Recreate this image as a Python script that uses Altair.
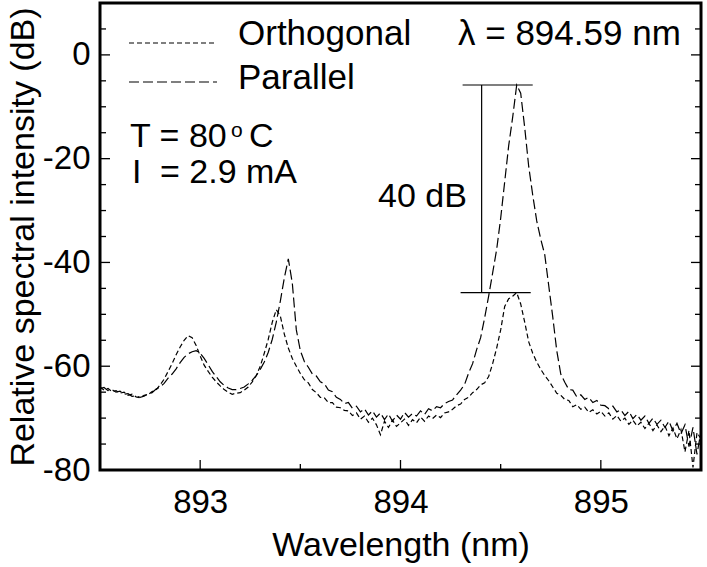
import altair as alt
import numpy as np
import pandas as pd

# Sampling grid of both spectra (nm)
wl_start, wl_step, n_points = 892.50, 0.02, 151
wavelength = np.round(wl_start + wl_step * np.arange(n_points), 2)

# Relative spectral intensity (dB), one value per grid point
orthogonal_db = [
    -64.0, -64.6, -64.3, -64.9, -64.7, -65.2, -65.0, -65.6, -65.4, -65.9,
    -66.1, -65.6, -65.5, -64.9, -64.6, -63.6, -62.5, -61.0, -59.5, -57.8,
    -56.3, -55.0, -54.1, -54.5, -56.0, -58.0, -59.8, -61.0, -62.1, -63.0,
    -63.8, -64.5, -65.0, -65.4, -65.2, -65.1, -64.6, -64.0, -63.0, -61.8,
    -60.0, -57.5, -54.8, -51.5, -49.1, -50.3, -53.8, -56.5, -58.5, -60.0,
    -61.4, -62.6, -63.2, -64.5, -65.1, -66.0, -66.1, -67.0, -67.0, -67.9,
    -68.0, -68.5, -68.6, -69.5, -69.0, -70.2, -69.6, -70.8, -70.0, -71.3,
    -73.2, -70.6, -71.8, -70.4, -71.6, -70.9, -70.2, -71.4, -70.3, -70.9,
    -69.8, -70.6, -69.6, -70.1, -69.4, -69.9, -69.0, -68.8, -68.3, -67.6,
    -67.3, -66.4, -66.0, -65.1, -64.5, -63.6, -63.2, -62.0, -59.5, -56.5,
    -53.0, -48.5, -47.0, -46.5, -45.8, -48.0, -51.5, -55.3, -57.5, -59.2,
    -60.6, -61.8, -62.8, -64.0, -65.2, -65.6, -66.4, -66.6, -67.8, -67.4,
    -68.3, -67.9, -68.9, -68.4, -69.2, -68.7, -69.6, -69.0, -70.2, -69.5,
    -70.6, -70.0, -71.2, -70.4, -71.5, -70.8, -72.0, -71.0, -72.4, -71.3,
    -72.6, -71.5, -73.4, -71.9, -74.0, -72.2, -76.5, -72.4, -79.5, -72.8,
    -74.0,
]
parallel_db = [
    -64.3, -64.1, -64.7, -64.5, -65.0, -64.8, -65.4, -65.3, -65.8, -65.7,
    -66.0, -65.8, -65.3, -65.1, -64.4, -64.0, -63.3, -62.3, -61.5, -60.5,
    -59.3, -58.3, -57.6, -57.2, -57.0, -57.5, -58.5, -59.7, -61.0, -62.0,
    -63.0, -63.7, -64.2, -64.5, -64.5, -64.3, -64.0, -63.4, -62.7, -61.8,
    -60.6, -59.2, -57.3, -54.8, -51.5, -47.5, -43.0, -39.3, -44.0, -53.0,
    -57.0, -59.1, -60.2, -61.5, -61.9, -63.0, -63.4, -64.6, -64.9, -66.0,
    -66.4, -67.2, -67.0, -68.1, -67.7, -68.8, -68.2, -69.4, -68.6, -69.8,
    -69.0, -70.3, -69.2, -70.6, -69.4, -70.2, -68.9, -69.8, -69.1, -69.6,
    -68.6, -69.3, -68.2, -68.6, -67.8, -68.0, -67.2, -66.8, -66.5, -65.5,
    -64.6, -63.5, -61.3, -59.5, -56.8, -54.5, -50.7, -46.5, -42.0, -37.5,
    -31.5, -24.5, -17.5, -12.0, -5.8, -7.4, -14.0, -21.5, -27.0, -32.0,
    -35.5, -38.5, -44.5, -50.5, -57.0, -61.5, -63.1, -64.5, -64.6, -65.9,
    -65.5, -66.4, -66.0, -67.0, -66.6, -67.5, -67.6, -68.2, -67.7, -68.8,
    -68.4, -69.5, -68.7, -70.1, -69.3, -70.4, -69.6, -71.0, -70.0, -71.2,
    -70.4, -71.8, -70.6, -72.5, -71.0, -73.0, -71.3, -75.5, -71.8, -77.0,
    -72.5,
]

series_names = ["Orthogonal", "Parallel"]
series_dash = [[5, 3], [10, 4]]

# Axis ticks
x_major = [893, 894, 895]
x_minor = [893.5, 894.5]
y_major = [-80, -60, -40, -20, 0]
y_minor = [-75, -70, -65, -55, -50, -45, -35, -30, -25, -15, -10, -5, 5]

# Suppression marker between the two main peaks
peak_levels = [max(parallel_db), max(orthogonal_db)]
bracket_left = [894.31, 894.30]
bracket_right = [894.66, 894.65]
bracket_x = [894.405]
suppression_text = f"{round(peak_levels[0] - peak_levels[1])} dB"

W, H = 601, 467
FONT = "Liberation Sans"
TICK_FS = 33
TEXT_FS = 34
LEGEND_FS = 35

xs = alt.Scale(domain=[892.5, 895.5], nice=False, zero=False)
ys = alt.Scale(domain=[-80, 10], nice=False, zero=False)

# One shared axis definition per channel, used by every layer on that scale
x_axis = alt.Axis(
    values=x_major, labelExpr="'' + datum.value", title="Wavelength (nm)",
    ticks=False, tickSize=0, domain=False, grid=False,
    labelFont=FONT, labelFontSize=TICK_FS, labelColor="black", labelPadding=16,
    titleFont=FONT, titleFontSize=34, titleFontWeight="normal", titleColor="black",
    titleY=85, titleBaseline="alphabetic")
y_axis = alt.Axis(
    values=y_major, labelExpr="'' + datum.value", title="Relative spectral intensity (dB)",
    ticks=False, tickSize=0, domain=False, grid=False,
    labelFont=FONT, labelFontSize=TICK_FS, labelColor="black", labelPadding=10,
    titleFont=FONT, titleFontSize=34, titleFontWeight="normal", titleColor="black",
    titleX=-67, titleBaseline="alphabetic")

spectra = pd.DataFrame({
    "wl": np.concatenate([wavelength, wavelength]),
    "db": orthogonal_db + parallel_db,
    "series": [series_names[0]] * n_points + [series_names[1]] * n_points,
})

lines = alt.Chart(spectra).mark_line(color="black", strokeWidth=1.2).encode(
    x=alt.X("wl:Q", scale=xs, axis=x_axis),
    y=alt.Y("db:Q", scale=ys, axis=y_axis),
    strokeDash=alt.StrokeDash("series:N", scale=alt.Scale(domain=series_names, range=series_dash), legend=None),
    order="wl:Q",
)


def x_ticks(vals, length):
    return alt.Chart(pd.DataFrame({"t": vals})).mark_rule(color="black", strokeWidth=1.3).encode(
        x=alt.X("t:Q", scale=xs, axis=x_axis), y=alt.value(H), y2=alt.value(H - length))


def y_ticks(vals, length, right=False):
    x0 = W if right else 0
    x1 = W - length if right else length
    return alt.Chart(pd.DataFrame({"t": vals})).mark_rule(color="black", strokeWidth=1.3).encode(
        y=alt.Y("t:Q", scale=ys, axis=y_axis), x=alt.value(x0), x2=alt.value(x1))


def label(text, x, y, size=TEXT_FS):
    return alt.Chart(pd.DataFrame({"t": [text]})).mark_text(
        align="left", baseline="alphabetic", font=FONT, fontSize=size, color="black"
    ).encode(text="t:N", x=alt.value(x), y=alt.value(y))


def legend_sample(dash, y):
    return alt.Chart(pd.DataFrame({"t": [0]})).mark_rule(
        color="black", strokeWidth=1.2, strokeDash=dash
    ).encode(x=alt.value(29), x2=alt.value(117), y=alt.value(y))


bracket_h = alt.Chart(pd.DataFrame({
    "x1": bracket_left, "x2": bracket_right, "y": peak_levels,
})).mark_rule(color="black", strokeWidth=1.2).encode(
    x=alt.X("x1:Q", scale=xs, axis=x_axis), x2="x2:Q", y=alt.Y("y:Q", scale=ys, axis=y_axis))

bracket_v = alt.Chart(pd.DataFrame({
    "x": bracket_x, "y1": [peak_levels[0]], "y2": [peak_levels[1]],
})).mark_rule(color="black", strokeWidth=1.2).encode(
    x=alt.X("x:Q", scale=xs, axis=x_axis), y=alt.Y("y1:Q", scale=ys, axis=y_axis), y2="y2:Q")

chart = alt.layer(
    lines,
    x_ticks(x_major, 10), x_ticks(x_minor, 6),
    y_ticks(y_major, 10), y_ticks(y_minor, 6),
    y_ticks(y_major, 10, right=True), y_ticks(y_minor, 6, right=True),
    bracket_h, bracket_v,
    legend_sample(series_dash[0], 40), legend_sample(series_dash[1], 79),
    label(series_names[0], 138, 42, LEGEND_FS), label(series_names[1], 138, 86, LEGEND_FS),
    label("λ = 894.59 nm", 358, 42, LEGEND_FS),
    label("T = 80", 30, 144), label("o", 131, 134, size=21), label("C", 149, 144),
    label("I", 32, 180), label("= 2.9 mA", 60, 180),
    label(suppression_text, 278, 204),
).properties(
    width=W, height=H,
    background="white",
    autosize=alt.AutoSizeParams(type="none"),
    padding={"left": 100, "top": 3, "right": 6, "bottom": 97},
).configure_view(
    stroke="black", strokeWidth=3,
)

chart.save("out.html", embed_options={"renderer": "svg", "actions": False})
